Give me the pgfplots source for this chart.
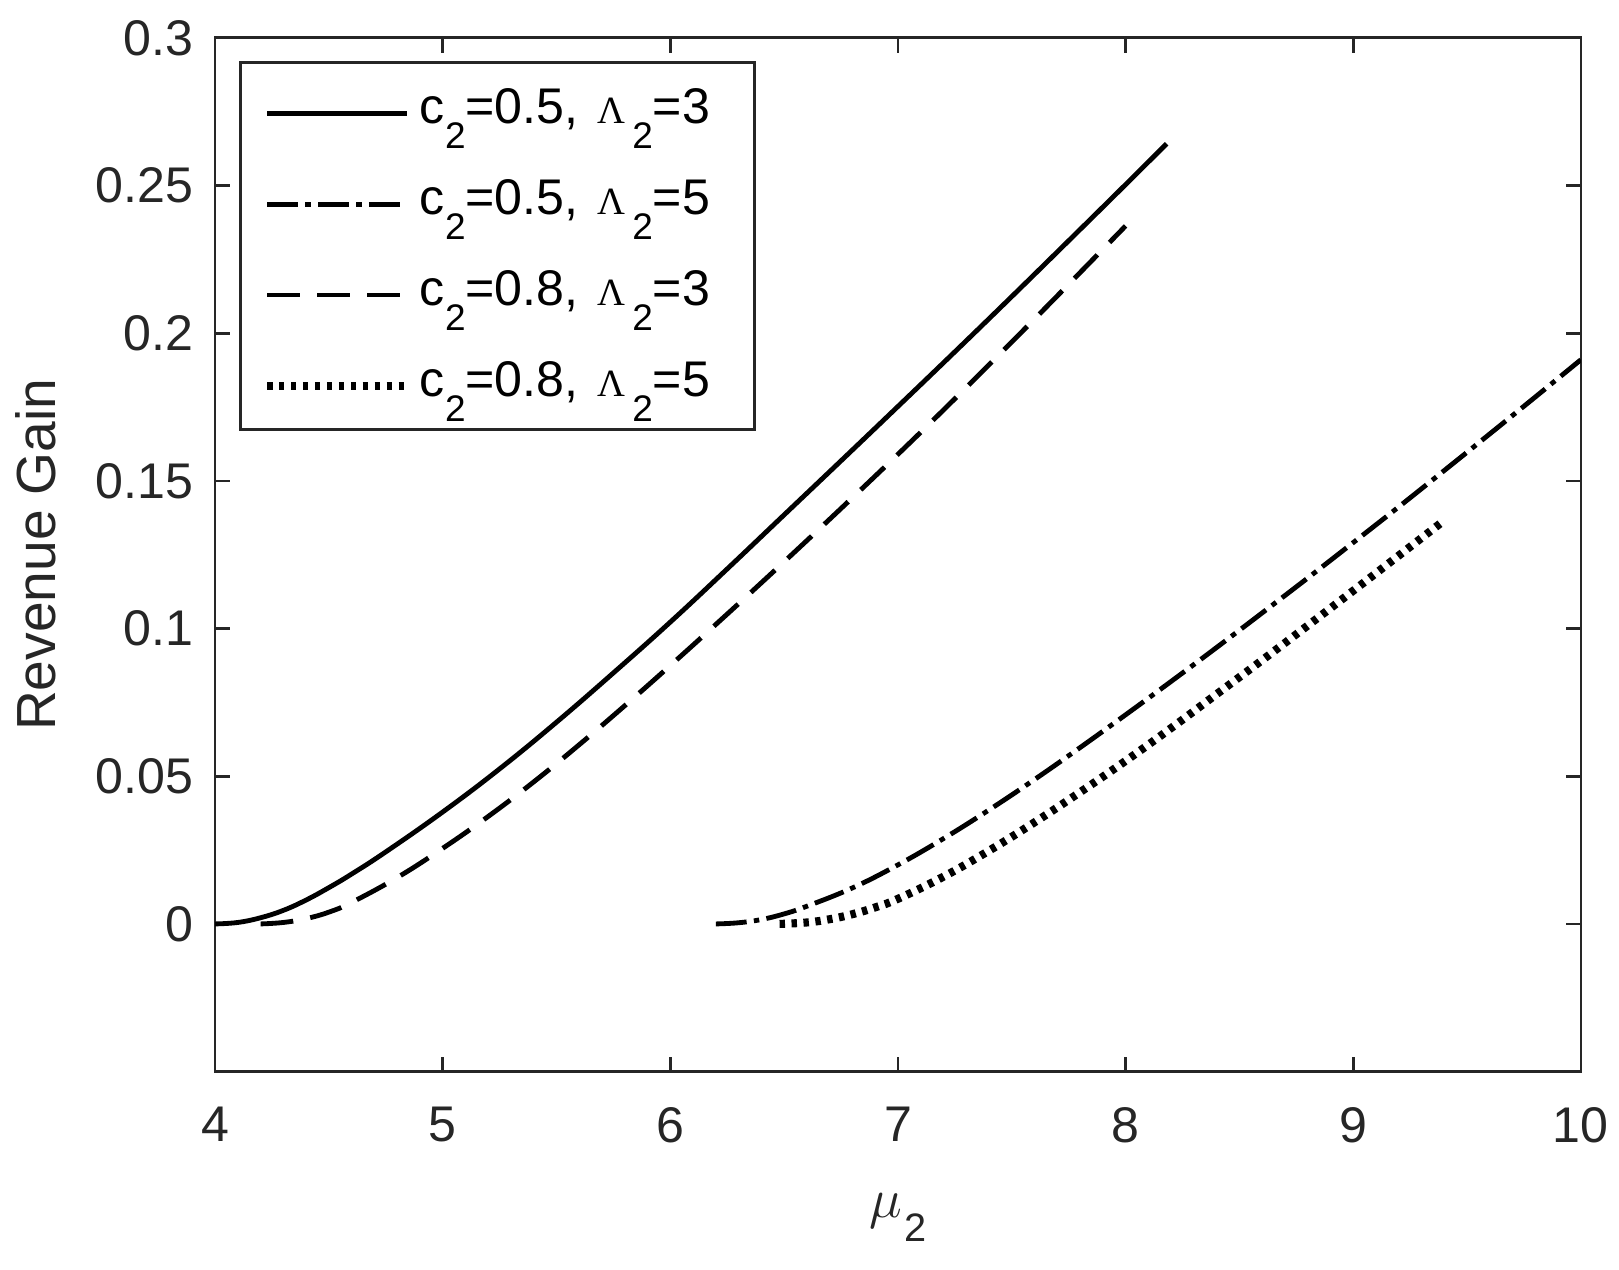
\documentclass[border=0pt]{standalone}
\usepackage{fontspec}
\setmainfont{Liberation Sans}
\newfontfamily\serifgreek{Liberation Serif}
\usepackage{pgfplots}
\pgfplotsset{compat=1.18}
\definecolor{axgray}{RGB}{38,38,38}
\newcommand{\sub}[1]{\raisebox{-6.5pt}{\fontsize{9.6}{11}\selectfont #1}}
\newcommand{\Lam}{\hspace{1.2pt}{\fontsize{10}{11}\selectfont\serifgreek Λ}\hspace{1.9pt}}
\newcommand{\pad}{\rule{5.7pt}{0pt}}
\begin{document}
\begin{tikzpicture}
\begin{axis}[
  scale only axis,
  width=354.3pt, height=268.2pt,
  xmin=4, xmax=10, ymin=-0.05, ymax=0.3,
  xtick={4,5,6,7,8,9,10},
  xticklabels={4,5,6,7,8,9,10},
  ytick={0,0.05,0.1,0.15,0.2,0.25,0.3},
  yticklabels={0,0.05,0.1,0.15,0.2,0.25,0.3},
  scaled ticks=false,
  tick align=inside,
  major tick length=3.9pt,
  tick style={axgray, line width=0.7pt},
  axis line style={axgray, line width=0.7pt},
  ticklabel style={font=\fontsize{13}{15}\selectfont, text=axgray, inner sep=0pt},
  xticklabel style={anchor=north, yshift=-9pt},
  yticklabel style={anchor=east, xshift=-5.5pt},
  every axis x label/.style={at={(rel axis cs:0.5,0)}, anchor=base, yshift=-37.9pt, inner sep=0pt, text=axgray},
  every axis y label/.style={at={(rel axis cs:0,0.5)}, xshift=-46.4pt, rotate=90, anchor=center, inner sep=0pt, text=axgray, font=\fontsize{14.3}{17}\selectfont},
  xlabel={{\fontsize{14.3}{17}\selectfont$\mu$\hspace{0.8pt}\raisebox{-6.1pt}{\fontsize{10.3}{12}\selectfont 2}}},
  ylabel={Revenue Gain},
  legend cell align=left,
  legend image code/.code={\draw[#1] (0pt,-0.95pt) -- (36.2pt,-0.95pt);},
  legend style={at={(rel axis cs:0,1)}, anchor=north west, xshift=6.2pt, yshift=-6.1pt,
    draw=axgray, line width=0.7pt, inner xsep=5.9pt, inner ysep=2pt,
    row sep=3.3pt, column sep=2.4pt, cells={anchor=west},
    nodes={inner sep=0pt, text height=13.8pt, text depth=6.5pt, font=\fontsize{13}{15}\selectfont, text=black}},
]
\addplot[black, line width=1.25pt, smooth, tension=0.7] coordinates {
(4.0,0) (4.1,0.0005) (4.2,0.0021) (4.3,0.0046) (4.4,0.0081) (4.5,0.0123) (4.6,0.0169) (4.75,0.0244) (5.0,0.0379) (5.25,0.0525) (5.5,0.0683) (5.75,0.0850) (6.0,0.1022) (6.25,0.1202) (6.5,0.1385) (6.75,0.1568) (7.0,0.1752) (7.25,0.1937) (7.5,0.2124) (7.75,0.2313) (8.0,0.2503) (8.18,0.2641)
};
\addlegendentry{c\sub{2}=0.5,\ \Lam\sub{2}=3\pad}
\addplot[black, line width=1.25pt, smooth, tension=0.7, dash pattern=on 8pt off 1.9pt on 1.4pt off 1.9pt] coordinates {
(6.2,0) (6.3,0.0004) (6.4,0.0015) (6.5,0.0034) (6.6,0.0060) (6.8,0.0122) (7.0,0.0200) (7.2,0.0289) (7.4,0.0386) (7.6,0.0489) (7.8,0.0597) (8.0,0.0708) (8.2,0.0821) (8.4,0.0936) (8.6,0.1053) (8.8,0.1171) (9.0,0.1291) (9.2,0.1412) (9.4,0.1535) (9.6,0.1659) (9.8,0.1784) (10.0,0.1910)
};
\addlegendentry{c\sub{2}=0.5,\ \Lam\sub{2}=5\pad}
\addplot[black, line width=1.25pt, smooth, tension=0.7, dash pattern=on 8.5pt off 4.5pt] coordinates {
(4.2,0) (4.3,0.0005) (4.4,0.0018) (4.5,0.0040) (4.6,0.0073) (4.8,0.0157) (5.0,0.0256) (5.2,0.0364) (5.4,0.0481) (5.6,0.0607) (5.8,0.0739) (6.0,0.0875) (6.2,0.1014) (6.4,0.1155) (6.6,0.1298) (6.8,0.1443) (7.0,0.1590) (7.2,0.1740) (7.4,0.1893) (7.6,0.2048) (7.8,0.2205) (8.0,0.2363)
};
\addlegendentry{c\sub{2}=0.8,\ \Lam\sub{2}=3\pad}
\addplot[black, line width=2.1pt, smooth, tension=0.7, dash pattern=on 1.4pt off 1.7pt] coordinates {
(6.48,0) (6.6,0.0005) (6.7,0.0016) (6.8,0.0033) (6.9,0.0056) (7.0,0.0085) (7.2,0.0160) (7.4,0.0248) (7.6,0.0344) (7.8,0.0446) (8.0,0.0552) (8.2,0.0663) (8.4,0.0778) (8.6,0.0893) (8.8,0.1010) (9.0,0.1128) (9.2,0.1247) (9.383,0.1356)
};
\addlegendentry{c\sub{2}=0.8,\ \Lam\sub{2}=5\pad}
\coordinate (sw) at (rel axis cs:0,0);
\coordinate (ne) at (rel axis cs:1,1);
\end{axis}
\pgfresetboundingbox
\path ([xshift=-55.8pt,yshift=-51.4pt]sw) rectangle ([xshift=9.9pt,yshift=9.8pt]ne);
\end{tikzpicture}
\end{document}
